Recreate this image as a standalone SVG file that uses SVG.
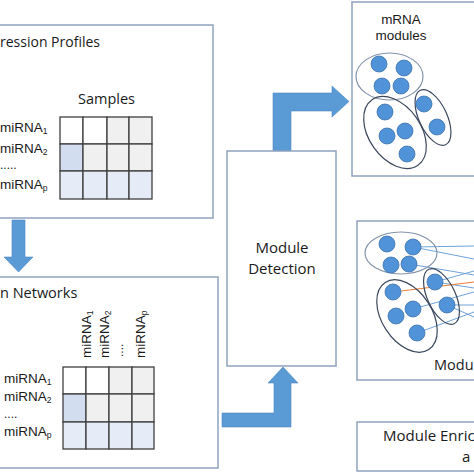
<svg xmlns="http://www.w3.org/2000/svg" width="474" height="474" viewBox="0 0 474 474">
<style>
.box{fill:#fff;stroke:#8fa3bf;stroke-width:1.5}
.t{font-family:"Open Sans","Liberation Sans",sans-serif;fill:#1a1a1a}
.t2{font-family:"Liberation Sans",Arial,sans-serif;fill:#1a1a1a}
.lbl{font-family:"Liberation Sans",Arial,sans-serif;font-size:13.5px;fill:#1a1a1a}
.dots{font-size:12px}
.sub{font-size:8.5px}
.cell{stroke:#3f3f3f;stroke-width:1.3}
.w{fill:#ffffff}.g{fill:#f0f0f0}.b1{fill:#d2ddef}.b2{fill:#e6ecf7}
.arrow{fill:#5b9bd5;stroke:#4a88c4;stroke-width:0.6}
.dot{fill:#5193d8;stroke:#3d74ad;stroke-width:0.8}
.ell1{fill:none;stroke:#8393ab;stroke-width:1.2}
.ell2{fill:none;stroke:#3a475d;stroke-width:1.2}
.ln{stroke:#6ea3d8;stroke-width:1}
.ln2{stroke:#ed7d31;stroke-width:1}
</style>

<g id="connectors">
<polygon class="arrow" points="12,220 25,220 25,257 33,257 18.5,272 4,257 12,257"/>
<polygon class="arrow" points="273,151 273,93 332,93 332,86 349,101.5 332,117 332,111 291,111 291,151"/>
<polygon class="arrow" points="222,413 274,413 274,383 268,383 283,367 298,383 291,383 291,427 222,427"/>
</g>

<g id="expression-profiles">
<rect class="box" x="-5" y="25" width="218" height="193"/>
<text class="t" x="0" y="47" font-size="14">ression Profiles</text>
<text class="t" x="78" y="104" font-size="14.5">Samples</text>
<g class="cell">
<rect class="w" x="60" y="117" width="23" height="27"/>
<rect class="w" x="83" y="117" width="24" height="27"/>
<rect class="g" x="107" y="117" width="22" height="27"/>
<rect class="g" x="129" y="117" width="23" height="27"/>
<rect class="b1" x="60" y="144" width="23" height="27"/>
<rect class="g" x="83" y="144" width="24" height="27"/>
<rect class="g" x="107" y="144" width="22" height="27"/>
<rect class="g" x="129" y="144" width="23" height="27"/>
<rect class="b2" x="60" y="171" width="23" height="28"/>
<rect class="b2" x="83" y="171" width="24" height="28"/>
<rect class="b2" x="107" y="171" width="22" height="28"/>
<rect class="b2" x="129" y="171" width="23" height="28"/>
</g>
<text class="lbl" x="0" y="132">miRNA<tspan class="sub" dy="2">1</tspan></text>
<text class="lbl" x="0" y="153">miRNA<tspan class="sub" dy="2">2</tspan></text>
<text class="lbl dots" x="0" y="169">.....</text>
<text class="lbl" x="0" y="189">miRNA<tspan class="sub" dy="2">p</tspan></text>
</g>

<g id="networks">
<rect class="box" x="-5" y="277" width="223" height="191"/>
<text class="t" x="0" y="298" font-size="14.5">n Networks</text>
<g class="cell">
<rect class="w" x="63" y="367" width="23" height="27"/>
<rect class="w" x="86" y="367" width="23" height="27"/>
<rect class="g" x="109" y="367" width="23" height="27"/>
<rect class="g" x="132" y="367" width="22" height="27"/>
<rect class="b1" x="63" y="394" width="23" height="28"/>
<rect class="g" x="86" y="394" width="23" height="28"/>
<rect class="g" x="109" y="394" width="23" height="28"/>
<rect class="g" x="132" y="394" width="22" height="28"/>
<rect class="b2" x="63" y="422" width="23" height="27"/>
<rect class="b2" x="86" y="422" width="23" height="27"/>
<rect class="b2" x="109" y="422" width="23" height="27"/>
<rect class="b2" x="132" y="422" width="22" height="27"/>
</g>
<text class="lbl" x="4" y="383">miRNA<tspan class="sub" dy="2">1</tspan></text>
<text class="lbl" x="4" y="401">miRNA<tspan class="sub" dy="2">2</tspan></text>
<text class="lbl dots" x="4" y="418">....</text>
<text class="lbl" x="4" y="436">miRNA<tspan class="sub" dy="2">p</tspan></text>
<text class="lbl" transform="translate(90.5,358) rotate(-90)">miRNA<tspan class="sub" dy="2">1</tspan></text>
<text class="lbl" transform="translate(108.5,358) rotate(-90)">miRNA<tspan class="sub" dy="2">2</tspan></text>
<text class="lbl dots" transform="translate(123,357) rotate(-90)">....</text>
<text class="lbl" transform="translate(145,358) rotate(-90)">miRNA<tspan class="sub" dy="2">p</tspan></text>
</g>

<g id="module-detection">
<rect class="box" x="227" y="151" width="109" height="215"/>
<text class="t" x="282" y="253" font-size="15" text-anchor="middle">Module</text>
<text class="t" x="282" y="274" font-size="15" text-anchor="middle">Detection</text>
</g>

<g id="mrna-modules">
<rect class="box" x="352" y="2" width="130" height="174"/>
<text class="t2" x="401" y="24" font-size="13.5" text-anchor="middle">mRNA</text>
<text class="t2" x="401" y="40" font-size="13.5" text-anchor="middle">modules</text>
<ellipse class="ell1" cx="389.5" cy="76.5" rx="33.5" ry="23.5"/>
<ellipse class="ell2" cx="395" cy="132.5" rx="26" ry="40" transform="rotate(-35 395 132.5)"/>
<ellipse class="ell2" cx="433" cy="117.5" rx="14" ry="30" transform="rotate(-25 433 117.5)"/>
<circle class="dot" cx="379" cy="64" r="8"/>
<circle class="dot" cx="404" cy="68" r="8"/>
<circle class="dot" cx="382" cy="86" r="8"/>
<circle class="dot" cx="401" cy="86" r="8"/>
<circle class="dot" cx="385" cy="112" r="8"/>
<circle class="dot" cx="387" cy="136" r="8"/>
<circle class="dot" cx="405" cy="131" r="8"/>
<circle class="dot" cx="407" cy="154" r="8"/>
<circle class="dot" cx="424" cy="104" r="8"/>
<circle class="dot" cx="437" cy="127" r="8"/>
</g>

<g id="module-pairs">
<rect class="box" x="357" y="221" width="125" height="159"/>
<line class="ln" x1="413" y1="247" x2="474" y2="246"/>
<line class="ln" x1="413" y1="247" x2="474" y2="259"/>
<line class="ln" x1="409" y1="264" x2="474" y2="275"/>
<line class="ln" x1="435" y1="282" x2="474" y2="271"/>
<line class="ln" x1="435" y1="282" x2="474" y2="288"/>
<line class="ln2" x1="393" y1="292" x2="474" y2="282"/>
<line class="ln" x1="413" y1="309" x2="474" y2="292"/>
<line class="ln" x1="447" y1="305" x2="474" y2="305"/>
<line class="ln" x1="447" y1="305" x2="474" y2="317"/>
<line class="ln" x1="417" y1="333" x2="474" y2="312"/>
<ellipse class="ell1" cx="401" cy="253" rx="36" ry="21"/>
<ellipse class="ell2" cx="407" cy="316" rx="25" ry="40" transform="rotate(-33 407 316)"/>
<ellipse class="ell2" cx="441.5" cy="296.5" rx="14" ry="30" transform="rotate(-25 441.5 296.5)"/>
<circle class="dot" cx="387" cy="244" r="8"/>
<circle class="dot" cx="413" cy="247" r="8"/>
<circle class="dot" cx="391" cy="265" r="8"/>
<circle class="dot" cx="409" cy="264" r="8"/>
<circle class="dot" cx="393" cy="292" r="8"/>
<circle class="dot" cx="396" cy="316" r="8"/>
<circle class="dot" cx="413" cy="309" r="8"/>
<circle class="dot" cx="417" cy="333" r="8"/>
<circle class="dot" cx="435" cy="282" r="8"/>
<circle class="dot" cx="447" cy="305" r="8"/>
<text class="t" x="434" y="370" font-size="14.5">Modu</text>
</g>

<g id="enrichment">
<rect class="box" x="357" y="422" width="125" height="49"/>
<text class="t" x="383" y="441" font-size="15">Module Enric</text>
<text class="t" x="462" y="462" font-size="15">a</text>
</g>
</svg>
